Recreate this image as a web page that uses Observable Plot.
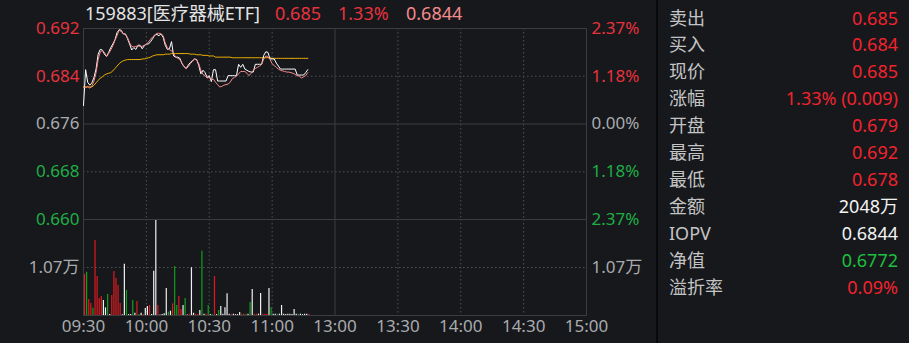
<!DOCTYPE html>
<html><head><meta charset="utf-8">
<script src="https://cdn.jsdelivr.net/npm/d3@7"></script>
<script src="https://cdn.jsdelivr.net/npm/@observablehq/plot@0.6"></script>
<style>
html,body{margin:0;padding:0;background:#16181c;}
#wrap{position:relative;width:909px;height:343px;overflow:hidden;background:#16181c;font-family:"Noto Sans","Noto Sans CJK SC",sans-serif;}
#wrap svg{position:absolute;left:0;top:0;}
.hd{position:absolute;top:0;line-height:26px;font-size:18px;white-space:nowrap;}
#panel{position:absolute;left:656px;top:0;width:253px;height:343px;border-left:2px solid #07080a;}
.row{position:absolute;left:0;width:253px;height:27px;line-height:27px;font-size:18px;}
.row .lb{position:absolute;left:11px;color:#c4c4c4;}
.row .vl{position:absolute;right:13px;}
</style></head>
<body><div id="wrap"></div>
<script>
// ---------- data ----------
const prevClose = 0.676;
const headerCode = "159883[医疗器械ETF]";
const headerPrice = "0.685";
const headerPct = "1.33%";
const headerIopv = "0.6844";

const price = [0.6791,0.6851,0.6830,0.6825,0.6829,0.6838,0.6852,0.6877,0.6885,0.6884,
0.6877,0.6873,0.6880,0.6888,0.6894,0.6901,0.6913,0.6918,0.6917,0.6911,
0.6911,0.6903,0.6894,0.6884,0.6888,0.6885,0.6892,0.6892,0.6886,0.6891,
0.6894,0.6894,0.6898,0.6903,0.6909,0.6910,0.6908,0.6911,0.6905,0.6892,
0.6885,0.6886,0.6898,0.6874,0.6872,0.6872,0.6870,0.6861,0.6856,0.6853,
0.6859,0.6863,0.6866,0.6869,0.6868,0.6858,0.6844,0.6850,0.6846,0.6838,
0.6841,0.6831,0.6851,0.6851,0.6832,0.6832,0.6832,0.6832,0.6832,0.6841,
0.6841,0.6841,0.6841,0.6841,0.6860,0.6855,0.6860,0.6852,0.6850,0.6848,
0.6847,0.6847,0.6860,0.6860,0.6860,0.6860,0.6875,0.6881,0.6880,0.6869,
0.6869,0.6869,0.6862,0.6857,0.6852,0.6852,0.6852,0.6852,0.6852,0.6852,
0.6852,0.6852,0.6842,0.6842,0.6842,0.6842,0.6846,0.6851];

const iopv = [0.6822,0.6821,0.6823,0.6820,0.6824,0.6832,0.6846,0.6868,0.6881,0.6883,
0.6880,0.6873,0.6878,0.6884,0.6891,0.6900,0.6908,0.6917,0.6915,0.6911,
0.6910,0.6905,0.6896,0.6890,0.6889,0.6890,0.6891,0.6890,0.6890,0.6892,
0.6894,0.6897,0.6902,0.6906,0.6909,0.6912,0.6912,0.6911,0.6908,0.6896,
0.6888,0.6884,0.6883,0.6878,0.6872,0.6870,0.6868,0.6862,0.6856,0.6853,
0.6856,0.6861,0.6865,0.6869,0.6867,0.6861,0.6850,0.6843,0.6841,0.6837,
0.6838,0.6834,0.6835,0.6830,0.6826,0.6822,0.6823,0.6825,0.6826,0.6827,
0.6830,0.6836,0.6838,0.6840,0.6844,0.6848,0.6848,0.6848,0.6845,0.6841,
0.6845,0.6850,0.6853,0.6855,0.6857,0.6860,0.6869,0.6874,0.6873,0.6868,
0.6861,0.6858,0.6855,0.6852,0.6850,0.6849,0.6848,0.6847,0.6847,0.6846,
0.6845,0.6843,0.6841,0.6840,0.6837,0.6839,0.6841,0.6846];

const avgPrice = [0.6822,0.6822,0.6822,0.6822,0.6822,0.6825,0.6829,0.6833,0.6837,0.6839,
0.6842,0.6844,0.6845,0.6846,0.6849,0.6853,0.6857,0.6861,0.6864,0.6866,
0.6867,0.6868,0.6868,0.6868,0.6868,0.6868,0.6868,0.6868,0.6869,0.6869,
0.6870,0.6871,0.6872,0.6874,0.6875,0.6876,0.6876,0.6876,0.6876,0.6877,
0.6877,0.6877,0.6878,0.6878,0.6878,0.6878,0.6878,0.6878,0.6878,0.6878,
0.6878,0.6877,0.6877,0.6877,0.6876,0.6876,0.6876,0.6875,0.6875,0.6875,
0.6874,0.6874,0.6874,0.6872,0.6872,0.6872,0.6872,0.6872,0.6872,0.6872,
0.6872,0.6871,0.6871,0.6871,0.6871,0.6871,0.6871,0.6871,0.6871,0.6871,
0.6871,0.6871,0.6871,0.6871,0.6871,0.6871,0.6871,0.6871,0.6871,0.6871,
0.6870,0.6870,0.6870,0.6870,0.6870,0.6870,0.6870,0.6870,0.6870,0.6870,
0.6870,0.6870,0.6870,0.6870,0.6870,0.6870,0.6870,0.6870];

const volume = [9150,9660,3550,2680,1600,16700,8700,3800,4240,3340,
1700,4700,200,4460,9800,8250,6700,2680,150,11400,
5600,200,200,3340,500,3100,200,500,200,1550,
2000,2230,200,9870,21200,2230,100,200,400,6020,
730,960,2600,10900,2230,4240,1340,2230,3790,100,
300,10650,500,300,300,1100,14300,300,300,2230,
200,200,8700,200,1100,2000,300,1700,4840,300,
300,300,200,200,670,300,300,300,300,2900,
5800,300,300,300,4900,300,200,300,6020,1750,
300,300,300,300,2230,300,200,300,300,200,
1340,300,300,300,200,300,300,300];

const volDir = ("rgrrgrrrrw" + "wgwrrrrrww" + "gwwgwrgwrw" + "wrwwwrwwww" +
                "gwrggrrwgw" + "rwwrrwgwrg" + "wgrwgwwwww" + "rwwwwrgrwg" +
                "wrrwwrrrwg" + "wwgwwwwwww" + "wwgwwwwr").split("");

const priceTicks = [0.692, 0.684, 0.676, 0.668, 0.660];
const priceTickLabels = ["0.692", "0.684", "0.676", "0.668", "0.660"];
const pctTickLabels = ["2.37%", "1.18%", "0.00%", "1.18%", "2.37%"];
const volTick = [10700];
const volTickLabel = "1.07万";
const timeTicks = [0, 30, 60, 90, 120, 150, 180, 210, 240];
const timeLabels = ["09:30","10:00","10:30","11:00","13:00","13:30","14:00","14:30","15:00"];

const panelLabels = ["卖出","买入","现价","涨幅","开盘","最高","最低","金额","IOPV","净值","溢折率"];
const panelValues = ["0.685","0.684","0.685","1.33% (0.009)","0.679","0.692","0.678","2048万","0.6844","0.6772","0.09%"];
const panelTone = ["up","up","up","up","up","up","up","flat","flat","down","up"];

// ---------- style ----------
const RED = "#e8323c", GREEN = "#1fae45", GRAY = "#a9abad", WHITE = "#f2f2f2";
const PRED = "#f2232e", PGREEN = "#1cc03e";
const SOLID = "#3a3c40", DOT = "#4e5054";
const tickColor = v => v > prevClose ? RED : v < prevClose ? GREEN : GRAY;
const barColor = {r: "#e01a1f", g: "#12a01c", w: "#f0f0f0"};

const W = 909, H = 343, ML = 83, MR = 909 - 586;
const FONT = '"Noto Sans","Noto Sans CJK SC",sans-serif';
const idx = d3.range(price.length);

const pricePlot = Plot.plot({
  width: W, height: H, marginLeft: ML, marginRight: MR, marginTop: 28, marginBottom: H - 219,
  x: {domain: [0, 240], axis: null},
  y: {domain: [0.660, 0.692], axis: null},
  color: {type: "identity"},
  style: {background: "transparent", fontFamily: FONT, fontSize: "17px", overflow: "visible"},
  marks: [
    Plot.ruleY([0.684, 0.668], {stroke: DOT, strokeDasharray: "1.5,2.5"}),
    Plot.ruleX([30, 60, 90, 150, 180, 210], {stroke: DOT, strokeDasharray: "1.5,2.5"}),
    Plot.ruleY([prevClose], {stroke: SOLID}),
    Plot.ruleX([120], {stroke: SOLID}),
    Plot.frame({stroke: SOLID}),
    Plot.line(idx, {x: i => i, y: i => avgPrice[i], stroke: "#f0b000", strokeWidth: 1}),
    Plot.line(idx, {x: i => i, y: i => price[i], stroke: "#ffffff", strokeWidth: 1}),
    Plot.line(idx, {x: i => i, y: i => iopv[i], stroke: "#f58a8a", strokeWidth: 1}),
    Plot.text(priceTicks, {y: d => d, text: (d, i) => priceTickLabels[i], frameAnchor: "left", textAnchor: "end", dx: -4, fill: d => tickColor(d)}),
    Plot.text(priceTicks, {y: d => d, text: (d, i) => pctTickLabels[i], frameAnchor: "right", textAnchor: "start", dx: 5, fill: d => tickColor(d)})
  ]
});

const volPlot = Plot.plot({
  width: W, height: H, marginLeft: ML, marginRight: MR, marginTop: 219, marginBottom: H - 315,
  x: {domain: [0, 240], axis: null},
  y: {domain: [0, 21400], axis: null},
  color: {type: "identity"},
  style: {background: "transparent", fontFamily: FONT, fontSize: "17px", overflow: "visible"},
  marks: [
    Plot.ruleY(volTick, {stroke: DOT, strokeDasharray: "1.5,2.5"}),
    Plot.ruleX([30, 60, 90, 150, 180, 210], {stroke: DOT, strokeDasharray: "1.5,2.5"}),
    Plot.ruleX([120], {stroke: SOLID}),
    Plot.frame({stroke: SOLID}),
    Plot.ruleX(idx, {x: i => i + 0.5, y1: 0, y2: i => volume[i], stroke: i => barColor[volDir[i]], strokeWidth: 1.2}),
    Plot.text(volTick, {y: d => d, text: () => volTickLabel, frameAnchor: "left", textAnchor: "end", dx: -4, fill: GRAY}),
    Plot.text(volTick, {y: d => d, text: () => volTickLabel, frameAnchor: "right", textAnchor: "start", dx: 5, fill: GRAY}),
    Plot.text(timeTicks, {x: d => d, text: (d, i) => timeLabels[i], frameAnchor: "bottom", dy: 16, fill: GRAY})
  ]
});

const wrap = d3.select("#wrap");
wrap.node().appendChild(pricePlot);
wrap.node().appendChild(volPlot);

// header
const hdr = [
  {t: headerCode, left: 85, c: "#e4e4e4"},
  {t: headerPrice, left: 275, c: RED},
  {t: headerPct, left: 338, c: RED},
  {t: headerIopv, left: 406, c: "#f58a8a"}
];
wrap.selectAll("div.hd").data(hdr).join("div").attr("class", "hd")
  .style("left", d => d.left + "px").style("color", d => d.c).text(d => d.t);

// right panel
const panel = wrap.append("div").attr("id", "panel");
const toneColor = {up: PRED, down: PGREEN, flat: WHITE};
const rows = panel.selectAll("div.row").data(panelLabels).join("div").attr("class", "row")
  .style("top", (d, i) => (4.5 + i * 26.9) + "px");
rows.append("span").attr("class", "lb").text(d => d);
rows.append("span").attr("class", "vl").style("color", (d, i) => toneColor[panelTone[i]]).text((d, i) => panelValues[i]);
</script></body></html>
